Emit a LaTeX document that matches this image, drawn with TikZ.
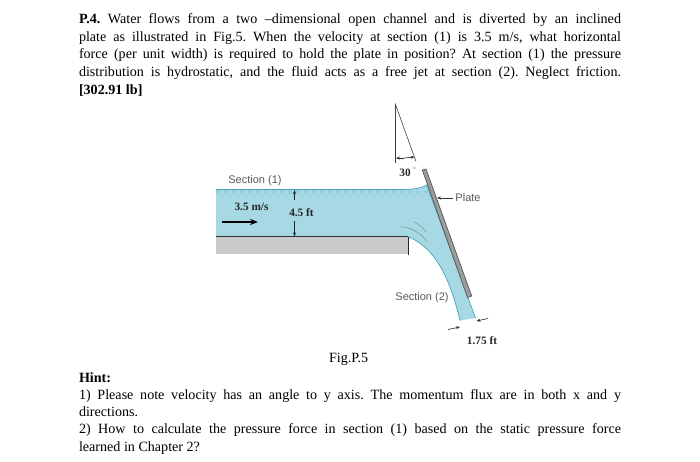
\documentclass[tikz,border=0pt]{standalone}
\usepackage{fontspec}
\setmainfont{Liberation Serif}
\setsansfont{Liberation Sans}
\usetikzlibrary{arrows.meta}
\definecolor{water}{HTML}{A6D9E4}
\definecolor{waterdark}{HTML}{8CCBD8}
\definecolor{edgeblue}{HTML}{45A5B8}
\definecolor{slab}{HTML}{C9CACC}
\definecolor{plategray}{HTML}{9A9CA0}
\definecolor{labelgray}{HTML}{5A5A5A}
\tikzset{
  x=1pt,y=-1pt,
  bodyline/.style={anchor=base west,inner sep=0pt,outer sep=0pt,font=\fontsize{14.1}{16}\selectfont},
  figlabel/.style={inner sep=0pt,font=\sffamily\fontsize{11}{12}\selectfont,text=labelgray},
  dimlabel/.style={inner sep=0pt,font=\bfseries\fontsize{11.3}{12}\selectfont,text=black!85},
  thin dim/.style={draw=black!85,line width=0.6pt},
  dimarrow/.style={thin dim,-{Stealth[length=4pt,width=3pt]}},
}
\newcommand{\jline}[1]{\makebox[542pt][s]{\frenchspacing #1}}
\begin{document}
\begin{tikzpicture}
\useasboundingbox (0,0) rectangle (700,461);
\fill[white] (0,0) rectangle (700,461);
% text
\node[bodyline] (t1) at (79,23) {\jline{\textbf{P.4.} Water flows from a two –dimensional open channel and is diverted by an inclined}};
\node[bodyline] (t2) at (79,41) {\jline{plate as illustrated in Fig.5. When the velocity at section (1) is 3.5 m/s, what horizontal}};
\node[bodyline] (t3) at (79,58.5) {\jline{force (per unit width) is required to hold the plate in position? At section (1) the pressure}};
\node[bodyline] (t4) at (79,76.5) {\jline{distribution is hydrostatic, and the fluid acts as a free jet at section (2). Neglect friction.}};
\node[bodyline] (t5) at (79,94) {\textbf{[302.91 lb]}};
\node[bodyline] (fig) at (329,362.5) {Fig.P.5};
\node[bodyline] (hint) at (79,382.5) {\textbf{Hint:}};
\node[bodyline] (h1) at (79,399) {\jline{1) Please note velocity has an angle to y axis. The momentum flux are in both x and y}};
\node[bodyline] (h2) at (79,416) {directions.};
\node[bodyline] (h3) at (79,433.5) {\jline{2) How to calculate the pressure force in section (1) based on the static pressure force}};
\node[bodyline] (h4) at (79,451) {learned in Chapter 2?};
% slab
\fill[slab] (216,237) rectangle (408.3,254);
% water
\fill[water] (216,189.5) -- (400,189.5) .. controls (410,189.5) and (420,189) .. (427,185)
  -- (475.5,318) -- (460,320.5) .. controls (452,288) and (440,250) .. (408.3,236.7) -- (216,236.7) -- cycle;
% surface texture
\foreach \xx in {218,226,...,426}{
  \fill[waterdark,opacity=.6] (\xx,192) circle (2.2);
  \fill[waterdark,opacity=.35] (\xx+4,195.5) circle (2);
}
% edges
\draw[edgeblue,line width=0.7pt] (216,189.5) -- (400,189.5) .. controls (410,189.5) and (420,189) .. (427,185);
\draw[edgeblue,line width=0.7pt] (408.3,236.7) .. controls (440,250) and (452,288) .. (460,320.5);
\draw[edgeblue,line width=0.6pt] (427,186) -- (475.5,318);
\draw[black!80,line width=1pt] (216,236.9) -- (408.3,236.9);
\draw[black!85,line width=1pt] (408.3,236.9) -- (408.3,254.5);
% streamlines
\draw[black!45,line width=0.5pt] (400,226.7) .. controls (411,227) and (421,233) .. (427,241.7);
\draw[black!45,line width=0.5pt] (414,222) .. controls (419,224) and (423,228) .. (426,232);
% plate
\path[draw=black!70,fill=plategray,line width=0.6pt] (422.3,170) -- (426,169) -- (471.7,296) -- (467.5,297.5) -- cycle;
% angle sketch
\coordinate (apex) at (395.5,104.5);
\coordinate (angL) at (395.5,163);
\coordinate (angR) at (416,161.5);
\draw[black!75,line width=0.6pt] (angL) -- (apex) -- (angR);
\draw[dimarrow] (404,158) -- (396,158);
\draw[dimarrow] (404,158) -- (414.5,157);
% dims
\coordinate (d45t) at (294.5,190);
\coordinate (d45b) at (294.5,236.5);
\draw[dimarrow] (294.5,200) -- (d45t);
\draw[dimarrow] (294.5,221) -- (d45b);
\node[dimlabel] (depth) at (301.5,212.5) {4.5 ft};
\node[dimlabel] (vel) at (251.5,206.5) {3.5 m/s};
\coordinate (vs) at (221.5,222);
\coordinate (ve) at (258,222);
\draw[black,line width=1.4pt,-{Stealth[length=8pt,width=6pt]}] (vs) -- (ve);
\node[figlabel] (s1) at (255,180.5) {Section (1)};
\node[figlabel] (s2) at (422,297.5) {Section (2)};
\node[figlabel] (pl) at (468,198) {Plate};
\coordinate (plt) at (437,198);
\draw[black!80,line width=0.7pt,-{Stealth[length=4pt,width=3pt]}] (453,198) -- (plt);
\node[dimlabel] (w) at (482,341) {1.75 ft};
\coordinate (wl) at (460,327);
\coordinate (wr) at (476.5,321);
\draw[dimarrow] (448,329.5) -- (wl);
\draw[dimarrow] (488,318.5) -- (wr);
\node[dimlabel] (ang) at (405,172.5) {30};
\node[inner sep=0pt,font=\fontsize{8}{8}\selectfont,text=black!50] (deg) at (414.5,170) {°};
\end{tikzpicture}
\end{document}
